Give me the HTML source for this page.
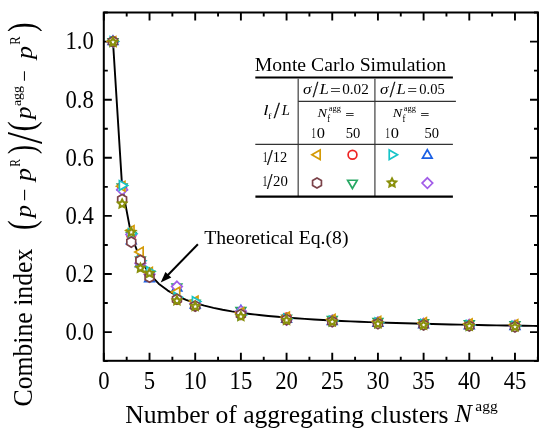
<!DOCTYPE html>
<html><head><meta charset="utf-8"><title>Combine index vs N_agg</title>
<style>html,body{margin:0;padding:0;background:#fff;width:550px;height:436px;overflow:hidden}svg{display:block}</style>
</head><body>
<svg width="550" height="436" viewBox="0 0 550 436" font-family="'Liberation Serif', 'Times New Roman', serif">
<rect width="550" height="436" fill="#fff"/>
<path d="M103.85,360.8v-8M103.85,12.5v8M126.69,360.8v-4M126.69,12.5v4M149.53,360.8v-8M149.53,12.5v8M172.37,360.8v-4M172.37,12.5v4M195.21,360.8v-8M195.21,12.5v8M218.05,360.8v-4M218.05,12.5v4M240.89,360.8v-8M240.89,12.5v8M263.73,360.8v-4M263.73,12.5v4M286.57,360.8v-8M286.57,12.5v8M309.41,360.8v-4M309.41,12.5v4M332.25,360.8v-8M332.25,12.5v8M355.09,360.8v-4M355.09,12.5v4M377.93,360.8v-8M377.93,12.5v8M400.77,360.8v-4M400.77,12.5v4M423.61,360.8v-8M423.61,12.5v8M446.45,360.8v-4M446.45,12.5v4M469.29,360.8v-8M469.29,12.5v8M492.13,360.8v-4M492.13,12.5v4M514.97,360.8v-8M514.97,12.5v8M537.81,360.8v-4M537.81,12.5v4M103.8,361.15h4M538.0,361.15h-4M103.8,332.10h8M538.0,332.10h-8M103.8,303.05h4M538.0,303.05h-4M103.8,274.00h8M538.0,274.00h-8M103.8,244.95h4M538.0,244.95h-4M103.8,215.90h8M538.0,215.90h-8M103.8,186.85h4M538.0,186.85h-4M103.8,157.80h8M538.0,157.80h-8M103.8,128.75h4M538.0,128.75h-4M103.8,99.70h8M538.0,99.70h-8M103.8,70.65h4M538.0,70.65h-4M103.8,41.60h8M538.0,41.60h-8M103.8,12.55h4M538.0,12.55h-4" fill="none" stroke="#000" stroke-width="1.9"/>
<rect x="103.8" y="12.5" width="434.2" height="348.3" fill="none" stroke="#000" stroke-width="2"/>
<clipPath id="cp"><rect x="103.8" y="12.5" width="434.2" height="348.3"/></clipPath>
<polyline clip-path="url(#cp)" fill="none" stroke="#000" stroke-width="1.9" stroke-linejoin="round" points="112.99,41.60 122.12,186.85 131.26,235.27 140.39,259.48 149.53,274.00 158.67,283.68 167.80,290.60 176.94,295.79 186.07,299.82 195.21,303.05 204.35,305.69 213.48,307.89 222.62,309.75 231.75,311.35 240.89,312.73 250.03,313.94 259.16,315.01 268.30,315.96 277.43,316.81 286.57,317.58 295.71,318.27 304.84,318.90 313.98,319.47 323.11,320.00 332.25,320.48 341.39,320.93 350.52,321.34 359.66,321.73 368.79,322.08 377.93,322.42 387.07,322.73 396.20,323.02 405.34,323.30 414.47,323.56 423.61,323.80 432.75,324.03 441.88,324.25 451.02,324.46 460.15,324.65 469.29,324.84 478.43,325.01 487.56,325.18 496.70,325.34 505.83,325.50 514.97,325.64 524.11,325.78 533.24,325.92 542.38,326.05"/>
<path d="M112.99,36.07 L117.79,44.37 L108.19,44.37 Z" fill="#fff" stroke="#1A5FE4" stroke-width="1.7" stroke-linejoin="miter"/>
<path d="M122.12,181.32 L126.92,189.62 L117.32,189.62 Z" fill="#fff" stroke="#1A5FE4" stroke-width="1.7" stroke-linejoin="miter"/>
<path d="M131.26,235.35 L136.06,243.65 L126.46,243.65 Z" fill="#fff" stroke="#1A5FE4" stroke-width="1.7" stroke-linejoin="miter"/>
<path d="M140.39,258.44 L145.19,266.74 L135.59,266.74 Z" fill="#fff" stroke="#1A5FE4" stroke-width="1.7" stroke-linejoin="miter"/>
<path d="M149.53,273.41 L154.33,281.71 L144.73,281.71 Z" fill="#fff" stroke="#1A5FE4" stroke-width="1.7" stroke-linejoin="miter"/>
<path d="M176.94,282.50 L181.74,290.80 L172.14,290.80 Z" fill="#fff" stroke="#1A5FE4" stroke-width="1.7" stroke-linejoin="miter"/>
<path d="M195.21,299.70 L200.01,308.00 L190.41,308.00 Z" fill="#fff" stroke="#1A5FE4" stroke-width="1.7" stroke-linejoin="miter"/>
<path d="M240.89,305.33 L245.69,313.63 L236.09,313.63 Z" fill="#fff" stroke="#1A5FE4" stroke-width="1.7" stroke-linejoin="miter"/>
<path d="M286.57,313.93 L291.37,322.23 L281.77,322.23 Z" fill="#fff" stroke="#1A5FE4" stroke-width="1.7" stroke-linejoin="miter"/>
<path d="M332.25,315.99 L337.05,324.29 L327.45,324.29 Z" fill="#fff" stroke="#1A5FE4" stroke-width="1.7" stroke-linejoin="miter"/>
<path d="M377.93,317.93 L382.73,326.23 L373.13,326.23 Z" fill="#fff" stroke="#1A5FE4" stroke-width="1.7" stroke-linejoin="miter"/>
<path d="M423.61,319.31 L428.41,327.61 L418.81,327.61 Z" fill="#fff" stroke="#1A5FE4" stroke-width="1.7" stroke-linejoin="miter"/>
<path d="M469.29,320.35 L474.09,328.65 L464.49,328.65 Z" fill="#fff" stroke="#1A5FE4" stroke-width="1.7" stroke-linejoin="miter"/>
<path d="M514.97,321.16 L519.77,329.46 L510.17,329.46 Z" fill="#fff" stroke="#1A5FE4" stroke-width="1.7" stroke-linejoin="miter"/>
<path d="M112.99,47.13 L117.79,38.83 L108.19,38.83 Z" fill="#fff" stroke="#28A864" stroke-width="1.7" stroke-linejoin="miter"/>
<path d="M122.12,192.38 L126.92,184.08 L117.32,184.08 Z" fill="#fff" stroke="#28A864" stroke-width="1.7" stroke-linejoin="miter"/>
<path d="M131.26,240.90 L136.06,232.60 L126.46,232.60 Z" fill="#fff" stroke="#28A864" stroke-width="1.7" stroke-linejoin="miter"/>
<path d="M140.39,265.44 L145.19,257.14 L135.59,257.14 Z" fill="#fff" stroke="#28A864" stroke-width="1.7" stroke-linejoin="miter"/>
<path d="M149.53,279.53 L154.33,271.23 L144.73,271.23 Z" fill="#fff" stroke="#28A864" stroke-width="1.7" stroke-linejoin="miter"/>
<path d="M176.94,292.32 L181.74,284.02 L172.14,284.02 Z" fill="#fff" stroke="#28A864" stroke-width="1.7" stroke-linejoin="miter"/>
<path d="M195.21,308.58 L200.01,300.28 L190.41,300.28 Z" fill="#fff" stroke="#28A864" stroke-width="1.7" stroke-linejoin="miter"/>
<path d="M240.89,315.99 L245.69,307.69 L236.09,307.69 Z" fill="#fff" stroke="#28A864" stroke-width="1.7" stroke-linejoin="miter"/>
<path d="M286.57,323.54 L291.37,315.24 L281.77,315.24 Z" fill="#fff" stroke="#28A864" stroke-width="1.7" stroke-linejoin="miter"/>
<path d="M332.25,324.91 L337.05,316.61 L327.45,316.61 Z" fill="#fff" stroke="#28A864" stroke-width="1.7" stroke-linejoin="miter"/>
<path d="M377.93,326.85 L382.73,318.55 L373.13,318.55 Z" fill="#fff" stroke="#28A864" stroke-width="1.7" stroke-linejoin="miter"/>
<path d="M423.61,328.23 L428.41,319.93 L418.81,319.93 Z" fill="#fff" stroke="#28A864" stroke-width="1.7" stroke-linejoin="miter"/>
<path d="M469.29,329.27 L474.09,320.97 L464.49,320.97 Z" fill="#fff" stroke="#28A864" stroke-width="1.7" stroke-linejoin="miter"/>
<path d="M514.97,330.07 L519.77,321.77 L510.17,321.77 Z" fill="#fff" stroke="#28A864" stroke-width="1.7" stroke-linejoin="miter"/>
<circle cx="112.99" cy="41.60" r="4.4" fill="#fff" stroke="#EE2424" stroke-width="1.7" stroke-linejoin="miter"/>
<circle cx="122.12" cy="186.85" r="4.4" fill="#fff" stroke="#EE2424" stroke-width="1.7" stroke-linejoin="miter"/>
<circle cx="131.26" cy="235.36" r="4.4" fill="#fff" stroke="#EE2424" stroke-width="1.7" stroke-linejoin="miter"/>
<circle cx="140.39" cy="259.48" r="4.4" fill="#fff" stroke="#EE2424" stroke-width="1.7" stroke-linejoin="miter"/>
<circle cx="149.53" cy="274.00" r="4.4" fill="#fff" stroke="#EE2424" stroke-width="1.7" stroke-linejoin="miter"/>
<circle cx="176.94" cy="299.56" r="4.4" fill="#fff" stroke="#EE2424" stroke-width="1.7" stroke-linejoin="miter"/>
<circle cx="195.21" cy="303.05" r="4.4" fill="#fff" stroke="#EE2424" stroke-width="1.7" stroke-linejoin="miter"/>
<circle cx="240.89" cy="312.72" r="4.4" fill="#fff" stroke="#EE2424" stroke-width="1.7" stroke-linejoin="miter"/>
<circle cx="286.57" cy="317.58" r="4.4" fill="#fff" stroke="#EE2424" stroke-width="1.7" stroke-linejoin="miter"/>
<circle cx="332.25" cy="320.48" r="4.4" fill="#fff" stroke="#EE2424" stroke-width="1.7" stroke-linejoin="miter"/>
<circle cx="377.93" cy="322.42" r="4.4" fill="#fff" stroke="#EE2424" stroke-width="1.7" stroke-linejoin="miter"/>
<circle cx="423.61" cy="323.80" r="4.4" fill="#fff" stroke="#EE2424" stroke-width="1.7" stroke-linejoin="miter"/>
<circle cx="469.29" cy="324.84" r="4.4" fill="#fff" stroke="#EE2424" stroke-width="1.7" stroke-linejoin="miter"/>
<circle cx="514.97" cy="325.64" r="4.4" fill="#fff" stroke="#EE2424" stroke-width="1.7" stroke-linejoin="miter"/>
<path d="M112.99,36.30 L118.29,41.60 L112.99,46.90 L107.69,41.60 Z" fill="#fff" stroke="#A25DE8" stroke-width="1.7" stroke-linejoin="miter"/>
<path d="M122.12,184.46 L127.42,189.76 L122.12,195.06 L116.82,189.76 Z" fill="#fff" stroke="#A25DE8" stroke-width="1.7" stroke-linejoin="miter"/>
<path d="M131.26,229.19 L136.56,234.49 L131.26,239.79 L125.96,234.49 Z" fill="#fff" stroke="#A25DE8" stroke-width="1.7" stroke-linejoin="miter"/>
<path d="M140.39,257.95 L145.69,263.25 L140.39,268.55 L135.09,263.25 Z" fill="#fff" stroke="#A25DE8" stroke-width="1.7" stroke-linejoin="miter"/>
<path d="M149.53,268.99 L154.83,274.29 L149.53,279.59 L144.23,274.29 Z" fill="#fff" stroke="#A25DE8" stroke-width="1.7" stroke-linejoin="miter"/>
<path d="M176.94,281.31 L182.24,286.61 L176.94,291.91 L171.64,286.61 Z" fill="#fff" stroke="#A25DE8" stroke-width="1.7" stroke-linejoin="miter"/>
<path d="M195.21,298.45 L200.51,303.75 L195.21,309.05 L189.91,303.75 Z" fill="#fff" stroke="#A25DE8" stroke-width="1.7" stroke-linejoin="miter"/>
<path d="M240.89,305.88 L246.19,311.18 L240.89,316.48 L235.59,311.18 Z" fill="#fff" stroke="#A25DE8" stroke-width="1.7" stroke-linejoin="miter"/>
<path d="M286.57,314.48 L291.87,319.78 L286.57,325.08 L281.27,319.78 Z" fill="#fff" stroke="#A25DE8" stroke-width="1.7" stroke-linejoin="miter"/>
<path d="M332.25,315.18 L337.55,320.48 L332.25,325.78 L326.95,320.48 Z" fill="#fff" stroke="#A25DE8" stroke-width="1.7" stroke-linejoin="miter"/>
<path d="M377.93,317.12 L383.23,322.42 L377.93,327.72 L372.63,322.42 Z" fill="#fff" stroke="#A25DE8" stroke-width="1.7" stroke-linejoin="miter"/>
<path d="M423.61,318.50 L428.91,323.80 L423.61,329.10 L418.31,323.80 Z" fill="#fff" stroke="#A25DE8" stroke-width="1.7" stroke-linejoin="miter"/>
<path d="M469.29,319.54 L474.59,324.84 L469.29,330.14 L463.99,324.84 Z" fill="#fff" stroke="#A25DE8" stroke-width="1.7" stroke-linejoin="miter"/>
<path d="M514.97,320.34 L520.27,325.64 L514.97,330.94 L509.67,325.64 Z" fill="#fff" stroke="#A25DE8" stroke-width="1.7" stroke-linejoin="miter"/>
<path d="M107.45,41.60 L115.75,36.80 L115.75,46.40 Z" fill="#fff" stroke="#D49A06" stroke-width="1.7" stroke-linejoin="miter"/>
<path d="M116.59,186.27 L124.89,181.47 L124.89,191.07 Z" fill="#fff" stroke="#D49A06" stroke-width="1.7" stroke-linejoin="miter"/>
<path d="M125.72,230.43 L134.02,225.62 L134.02,235.23 Z" fill="#fff" stroke="#D49A06" stroke-width="1.7" stroke-linejoin="miter"/>
<path d="M134.86,251.92 L143.16,247.12 L143.16,256.72 Z" fill="#fff" stroke="#D49A06" stroke-width="1.7" stroke-linejoin="miter"/>
<path d="M144.00,272.26 L152.30,267.46 L152.30,277.06 Z" fill="#fff" stroke="#D49A06" stroke-width="1.7" stroke-linejoin="miter"/>
<path d="M171.40,292.04 L179.70,287.24 L179.70,296.84 Z" fill="#fff" stroke="#D49A06" stroke-width="1.7" stroke-linejoin="miter"/>
<path d="M189.68,301.02 L197.98,296.22 L197.98,305.82 Z" fill="#fff" stroke="#D49A06" stroke-width="1.7" stroke-linejoin="miter"/>
<path d="M235.36,312.64 L243.66,307.84 L243.66,317.44 Z" fill="#fff" stroke="#D49A06" stroke-width="1.7" stroke-linejoin="miter"/>
<path d="M281.04,316.99 L289.34,312.19 L289.34,321.79 Z" fill="#fff" stroke="#D49A06" stroke-width="1.7" stroke-linejoin="miter"/>
<path d="M326.72,319.32 L335.02,314.52 L335.02,324.12 Z" fill="#fff" stroke="#D49A06" stroke-width="1.7" stroke-linejoin="miter"/>
<path d="M372.40,321.25 L380.70,316.45 L380.70,326.05 Z" fill="#fff" stroke="#D49A06" stroke-width="1.7" stroke-linejoin="miter"/>
<path d="M418.08,322.64 L426.38,317.84 L426.38,327.44 Z" fill="#fff" stroke="#D49A06" stroke-width="1.7" stroke-linejoin="miter"/>
<path d="M463.76,323.68 L472.06,318.88 L472.06,328.48 Z" fill="#fff" stroke="#D49A06" stroke-width="1.7" stroke-linejoin="miter"/>
<path d="M509.44,324.48 L517.74,319.68 L517.74,329.28 Z" fill="#fff" stroke="#D49A06" stroke-width="1.7" stroke-linejoin="miter"/>
<path d="M118.52,41.60 L110.22,36.80 L110.22,46.40 Z" fill="#fff" stroke="#16C4C8" stroke-width="1.7" stroke-linejoin="miter"/>
<path d="M127.66,185.40 L119.36,180.60 L119.36,190.20 Z" fill="#fff" stroke="#16C4C8" stroke-width="1.7" stroke-linejoin="miter"/>
<path d="M136.79,233.62 L128.49,228.82 L128.49,238.42 Z" fill="#fff" stroke="#16C4C8" stroke-width="1.7" stroke-linejoin="miter"/>
<path d="M145.93,260.78 L137.63,255.98 L137.63,265.58 Z" fill="#fff" stroke="#16C4C8" stroke-width="1.7" stroke-linejoin="miter"/>
<path d="M155.06,271.50 L146.76,266.70 L146.76,276.30 Z" fill="#fff" stroke="#16C4C8" stroke-width="1.7" stroke-linejoin="miter"/>
<path d="M182.47,297.15 L174.17,292.35 L174.17,301.95 Z" fill="#fff" stroke="#16C4C8" stroke-width="1.7" stroke-linejoin="miter"/>
<path d="M200.74,301.60 L192.44,296.80 L192.44,306.40 Z" fill="#fff" stroke="#16C4C8" stroke-width="1.7" stroke-linejoin="miter"/>
<path d="M246.42,314.96 L238.12,310.16 L238.12,319.76 Z" fill="#fff" stroke="#16C4C8" stroke-width="1.7" stroke-linejoin="miter"/>
<path d="M292.10,318.68 L283.80,313.88 L283.80,323.48 Z" fill="#fff" stroke="#16C4C8" stroke-width="1.7" stroke-linejoin="miter"/>
<path d="M337.78,320.92 L329.48,316.12 L329.48,325.72 Z" fill="#fff" stroke="#16C4C8" stroke-width="1.7" stroke-linejoin="miter"/>
<path d="M383.46,322.85 L375.16,318.05 L375.16,327.65 Z" fill="#fff" stroke="#16C4C8" stroke-width="1.7" stroke-linejoin="miter"/>
<path d="M429.14,324.24 L420.84,319.44 L420.84,329.04 Z" fill="#fff" stroke="#16C4C8" stroke-width="1.7" stroke-linejoin="miter"/>
<path d="M474.82,325.27 L466.52,320.47 L466.52,330.07 Z" fill="#fff" stroke="#16C4C8" stroke-width="1.7" stroke-linejoin="miter"/>
<path d="M520.50,326.08 L512.20,321.28 L512.20,330.88 Z" fill="#fff" stroke="#16C4C8" stroke-width="1.7" stroke-linejoin="miter"/>
<polygon points="112.99,36.50 117.40,39.05 117.40,44.15 112.99,46.70 108.57,44.15 108.57,39.05" fill="#fff" stroke="#7B4249" stroke-width="1.7" stroke-linejoin="miter"/>
<polygon points="122.12,194.53 126.54,197.08 126.54,202.18 122.12,204.73 117.71,202.18 117.71,197.08" fill="#fff" stroke="#7B4249" stroke-width="1.7" stroke-linejoin="miter"/>
<polygon points="131.26,236.95 135.67,239.50 135.67,244.60 131.26,247.15 126.84,244.60 126.84,239.50" fill="#fff" stroke="#7B4249" stroke-width="1.7" stroke-linejoin="miter"/>
<polygon points="140.39,255.36 144.81,257.91 144.81,263.01 140.39,265.56 135.98,263.01 135.98,257.91" fill="#fff" stroke="#7B4249" stroke-width="1.7" stroke-linejoin="miter"/>
<polygon points="149.53,272.10 153.95,274.65 153.95,279.75 149.53,282.30 145.11,279.75 145.11,274.65" fill="#fff" stroke="#7B4249" stroke-width="1.7" stroke-linejoin="miter"/>
<polygon points="176.94,294.17 181.35,296.72 181.35,301.82 176.94,304.37 172.52,301.82 172.52,296.72" fill="#fff" stroke="#7B4249" stroke-width="1.7" stroke-linejoin="miter"/>
<polygon points="195.21,301.06 199.63,303.61 199.63,308.71 195.21,311.26 190.79,308.71 190.79,303.61" fill="#fff" stroke="#7B4249" stroke-width="1.7" stroke-linejoin="miter"/>
<polygon points="240.89,309.37 245.31,311.92 245.31,317.02 240.89,319.57 236.47,317.02 236.47,311.92" fill="#fff" stroke="#7B4249" stroke-width="1.7" stroke-linejoin="miter"/>
<polygon points="286.57,314.51 290.99,317.06 290.99,322.16 286.57,324.71 282.15,322.16 282.15,317.06" fill="#fff" stroke="#7B4249" stroke-width="1.7" stroke-linejoin="miter"/>
<polygon points="332.25,316.54 336.67,319.09 336.67,324.19 332.25,326.74 327.83,324.19 327.83,319.09" fill="#fff" stroke="#7B4249" stroke-width="1.7" stroke-linejoin="miter"/>
<polygon points="377.93,318.48 382.35,321.03 382.35,326.13 377.93,328.68 373.51,326.13 373.51,321.03" fill="#fff" stroke="#7B4249" stroke-width="1.7" stroke-linejoin="miter"/>
<polygon points="423.61,319.86 428.03,322.41 428.03,327.51 423.61,330.06 419.19,327.51 419.19,322.41" fill="#fff" stroke="#7B4249" stroke-width="1.7" stroke-linejoin="miter"/>
<polygon points="469.29,320.90 473.71,323.45 473.71,328.55 469.29,331.10 464.87,328.55 464.87,323.45" fill="#fff" stroke="#7B4249" stroke-width="1.7" stroke-linejoin="miter"/>
<polygon points="514.97,321.71 519.39,324.26 519.39,329.36 514.97,331.91 510.55,329.36 510.55,324.26" fill="#fff" stroke="#7B4249" stroke-width="1.7" stroke-linejoin="miter"/>
<polygon points="112.99,37.75 114.25,40.31 117.08,40.72 115.03,42.71 115.51,45.53 112.99,44.20 110.46,45.53 110.94,42.71 108.90,40.72 111.72,40.31" fill="#fff" stroke="#8A900C" stroke-width="2.1" stroke-linejoin="miter" stroke-miterlimit="10"/>
<polygon points="122.12,199.56 123.39,202.12 126.21,202.53 124.17,204.52 124.65,207.34 122.12,206.01 119.59,207.34 120.08,204.52 118.03,202.53 120.86,202.12" fill="#fff" stroke="#8A900C" stroke-width="2.1" stroke-linejoin="miter" stroke-miterlimit="10"/>
<polygon points="131.26,227.88 132.52,230.44 135.35,230.85 133.30,232.85 133.79,235.66 131.26,234.33 128.73,235.66 129.21,232.85 127.17,230.85 129.99,230.44" fill="#fff" stroke="#8A900C" stroke-width="2.1" stroke-linejoin="miter" stroke-miterlimit="10"/>
<polygon points="140.39,263.76 141.66,266.32 144.48,266.73 142.44,268.72 142.92,271.54 140.39,270.21 137.87,271.54 138.35,268.72 136.30,266.73 139.13,266.32" fill="#fff" stroke="#8A900C" stroke-width="2.1" stroke-linejoin="miter" stroke-miterlimit="10"/>
<polygon points="149.53,268.99 150.79,271.55 153.62,271.96 151.57,273.95 152.06,276.77 149.53,275.44 147.00,276.77 147.49,273.95 145.44,271.96 148.27,271.55" fill="#fff" stroke="#8A900C" stroke-width="2.1" stroke-linejoin="miter" stroke-miterlimit="10"/>
<polygon points="176.94,296.38 178.20,298.94 181.03,299.35 178.98,301.35 179.47,304.16 176.94,302.83 174.41,304.16 174.89,301.35 172.85,299.35 175.67,298.94" fill="#fff" stroke="#8A900C" stroke-width="2.1" stroke-linejoin="miter" stroke-miterlimit="10"/>
<polygon points="195.21,302.11 196.47,304.67 199.30,305.08 197.25,307.07 197.74,309.88 195.21,308.56 192.68,309.88 193.17,307.07 191.12,305.08 193.95,304.67" fill="#fff" stroke="#8A900C" stroke-width="2.1" stroke-linejoin="miter" stroke-miterlimit="10"/>
<polygon points="240.89,312.13 242.15,314.69 244.98,315.10 242.93,317.09 243.42,319.91 240.89,318.58 238.36,319.91 238.85,317.09 236.80,315.10 239.63,314.69" fill="#fff" stroke="#8A900C" stroke-width="2.1" stroke-linejoin="miter" stroke-miterlimit="10"/>
<polygon points="286.57,315.93 287.83,318.49 290.66,318.90 288.61,320.90 289.10,323.71 286.57,322.38 284.04,323.71 284.53,320.90 282.48,318.90 285.31,318.49" fill="#fff" stroke="#8A900C" stroke-width="2.1" stroke-linejoin="miter" stroke-miterlimit="10"/>
<polygon points="332.25,317.44 333.51,320.00 336.34,320.41 334.29,322.41 334.78,325.22 332.25,323.89 329.72,325.22 330.21,322.41 328.16,320.41 330.99,320.00" fill="#fff" stroke="#8A900C" stroke-width="2.1" stroke-linejoin="miter" stroke-miterlimit="10"/>
<polygon points="377.93,319.38 379.19,321.94 382.02,322.35 379.97,324.34 380.46,327.16 377.93,325.83 375.40,327.16 375.89,324.34 373.84,322.35 376.67,321.94" fill="#fff" stroke="#8A900C" stroke-width="2.1" stroke-linejoin="miter" stroke-miterlimit="10"/>
<polygon points="423.61,320.76 424.87,323.32 427.70,323.73 425.65,325.73 426.14,328.54 423.61,327.21 421.08,328.54 421.57,325.73 419.52,323.73 422.35,323.32" fill="#fff" stroke="#8A900C" stroke-width="2.1" stroke-linejoin="miter" stroke-miterlimit="10"/>
<polygon points="469.29,321.80 470.55,324.36 473.38,324.77 471.33,326.77 471.82,329.58 469.29,328.25 466.76,329.58 467.25,326.77 465.20,324.77 468.03,324.36" fill="#fff" stroke="#8A900C" stroke-width="2.1" stroke-linejoin="miter" stroke-miterlimit="10"/>
<polygon points="514.97,322.61 516.23,325.17 519.06,325.58 517.01,327.57 517.50,330.39 514.97,329.06 512.44,330.39 512.93,327.57 510.88,325.58 513.71,325.17" fill="#fff" stroke="#8A900C" stroke-width="2.1" stroke-linejoin="miter" stroke-miterlimit="10"/>
<text transform="translate(93.8,339.90) scale(0.88,1)" font-size="25.8" text-anchor="end">0.0</text>
<text transform="translate(93.8,281.80) scale(0.88,1)" font-size="25.8" text-anchor="end">0.2</text>
<text transform="translate(93.8,223.70) scale(0.88,1)" font-size="25.8" text-anchor="end">0.4</text>
<text transform="translate(93.8,165.60) scale(0.88,1)" font-size="25.8" text-anchor="end">0.6</text>
<text transform="translate(93.8,107.50) scale(0.88,1)" font-size="25.8" text-anchor="end">0.8</text>
<text transform="translate(93.8,49.40) scale(0.88,1)" font-size="25.8" text-anchor="end">1.0</text>
<text transform="translate(103.85,388.6) scale(0.88,1)" font-size="25.8" text-anchor="middle">0</text>
<text transform="translate(149.53,388.6) scale(0.88,1)" font-size="25.8" text-anchor="middle">5</text>
<text transform="translate(195.21,388.6) scale(0.88,1)" font-size="25.8" text-anchor="middle">10</text>
<text transform="translate(240.89,388.6) scale(0.88,1)" font-size="25.8" text-anchor="middle">15</text>
<text transform="translate(286.57,388.6) scale(0.88,1)" font-size="25.8" text-anchor="middle">20</text>
<text transform="translate(332.25,388.6) scale(0.88,1)" font-size="25.8" text-anchor="middle">25</text>
<text transform="translate(377.93,388.6) scale(0.88,1)" font-size="25.8" text-anchor="middle">30</text>
<text transform="translate(423.61,388.6) scale(0.88,1)" font-size="25.8" text-anchor="middle">35</text>
<text transform="translate(469.29,388.6) scale(0.88,1)" font-size="25.8" text-anchor="middle">40</text>
<text transform="translate(514.97,388.6) scale(0.88,1)" font-size="25.8" text-anchor="middle">45</text>
<text x="125.2" y="422.6" font-size="25.6">Number of aggregating clusters</text>
<text x="454.8" y="422.4" font-size="25.6" font-style="italic">N</text>
<text x="475.3" y="411.2" font-size="15.5">agg</text>
<g transform="translate(31.8,405.6) rotate(-90)">
<text transform="scale(1,1.07)" x="-0.9" y="0" font-size="25.7">Combine index</text>
<text transform="translate(175.53,2.19) scale(0.776,1)" font-size="37.67">(</text>
<text transform="translate(188.01,-0.42) scale(1.115,1)" font-size="22.50" font-style="italic">p</text>
<text x="204.28" y="0.18" font-size="22.34">−</text>
<text transform="translate(224.65,-0.42) scale(1.149,1)" font-size="22.50" font-style="italic">p</text>
<text transform="translate(238.85,-11.34) scale(0.839,1)" font-size="13.79">R</text>
<text transform="translate(251.50,2.19) scale(0.705,1)" font-size="37.67">)</text>
<text transform="translate(261.50,9.09) scale(0.854,1)" font-size="50.60">/</text>
<text transform="translate(274.07,2.19) scale(0.817,1)" font-size="37.67">(</text>
<text transform="translate(286.71,-0.72) scale(1.094,1)" font-size="22.94" font-style="italic">p</text>
<text transform="translate(299.48,-11.30) scale(1.076,1)" font-size="12.88">agg</text>
<text x="323.88" y="-0.46" font-size="20.43">−</text>
<text transform="translate(346.66,0.08) scale(1.157,1)" font-size="22.50" font-style="italic">p</text>
<text transform="translate(360.82,-11.34) scale(0.907,1)" font-size="13.79">R</text>
<text transform="translate(373.55,2.19) scale(0.756,1)" font-size="37.67">)</text>
</g>
<text x="204.2" y="243.5" font-size="19.7">Theoretical Eq.(8)</text>
<line x1="197.9" y1="244.2" x2="166" y2="277" stroke="#000" stroke-width="2"/>
<path d="M160.7,282.4 L165.4,271.9 L171.3,277.6 Z" fill="#000"/>
<text x="254.7" y="70.7" font-size="19.7">Monte Carlo Simulation</text>
<line x1="255.3" y1="77.5" x2="452.9" y2="77.5" stroke="#000" stroke-width="2.1"/>
<line x1="298.2" y1="78.5" x2="298.2" y2="196" stroke="#5a5a5a" stroke-width="1.4"/>
<line x1="374.9" y1="78.5" x2="374.9" y2="196" stroke="#5a5a5a" stroke-width="1.4"/>
<line x1="298.2" y1="101.4" x2="455.9" y2="101.4" stroke="#333" stroke-width="1.1"/>
<line x1="255.3" y1="144.4" x2="452.9" y2="144.4" stroke="#333" stroke-width="1.1"/>
<line x1="255.4" y1="196.6" x2="452.9" y2="196.6" stroke="#000" stroke-width="2.1"/>
<text transform="translate(303.09,94.36) scale(1.262,1.000)" font-size="13.58" font-style="italic">σ</text>
<text stroke="#000" stroke-width="0.3" transform="translate(312.70,97.04) scale(0.860,1.000)" font-size="22.84">/</text>
<text transform="translate(319.47,93.80) scale(1.157,1.000)" font-size="14.46" font-style="italic">L</text>
<text transform="translate(330.2,94.83) scale(1,0.78)" font-size="18.5" stroke="#000" stroke-width="0.25">=</text>
<text transform="translate(342.19,94.01) scale(1.053,1.000)" font-size="14.41">0.02</text>
<text transform="translate(380.09,94.36) scale(1.262,1.000)" font-size="13.58" font-style="italic">σ</text>
<text stroke="#000" stroke-width="0.3" transform="translate(389.70,97.04) scale(0.860,1.000)" font-size="22.84">/</text>
<text transform="translate(396.47,93.80) scale(1.157,1.000)" font-size="14.46" font-style="italic">L</text>
<text transform="translate(407.5,94.84) scale(1,0.87)" font-size="16.6" stroke="#000" stroke-width="0.25">=</text>
<text transform="translate(419.22,94.01) scale(1.010,1.000)" font-size="14.41">0.05</text>
<text transform="translate(263.15,114.50) scale(1.301,1.000)" font-size="14.64" font-style="italic">l</text>
<text transform="translate(267.99,118.70) scale(1.359,1.000)" font-size="7.61">f</text>
<text stroke="#000" stroke-width="0.3" transform="translate(273.70,118.43) scale(0.930,1.000)" font-size="23.43">/</text>
<text transform="translate(281.65,114.50) scale(0.990,1.000)" font-size="14.77" font-style="italic">L</text>
<text transform="translate(317.54,116.97) scale(1.051,1.000)" font-size="13.48" font-style="italic">N</text>
<text transform="translate(328.64,111.46) scale(0.970,1.000)" font-size="8.77">agg</text>
<text transform="translate(327.34,121.60) scale(0.932,1.000)" font-size="9.30">f</text>
<text stroke="#000" stroke-width="0.25" transform="translate(345.43,118.52) scale(1.000,0.783)" font-size="15.32">=</text>
<text transform="translate(392.64,116.97) scale(1.051,1.000)" font-size="13.48" font-style="italic">N</text>
<text transform="translate(403.75,111.46) scale(0.970,1.000)" font-size="8.77">agg</text>
<text transform="translate(402.44,121.60) scale(0.932,1.000)" font-size="9.30">f</text>
<text stroke="#000" stroke-width="0.25" transform="translate(420.53,118.52) scale(1.000,0.783)" font-size="15.32">=</text>
<text transform="translate(311.53,138.00) scale(0.615,1.000)" font-size="13.94">1</text>
<text transform="translate(316.84,138.11) scale(1.140,1.000)" font-size="14.41">0</text>
<text transform="translate(345.63,137.92) scale(1.042,1.000)" font-size="13.97">50</text>
<text transform="translate(385.43,138.00) scale(0.615,1.000)" font-size="13.94">1</text>
<text transform="translate(390.74,138.11) scale(1.140,1.000)" font-size="14.41">0</text>
<text transform="translate(424.53,137.92) scale(1.042,1.000)" font-size="13.97">50</text>
<text transform="translate(262.73,162.40) scale(0.661,1.000)" font-size="14.70">1</text>
<text stroke="#000" stroke-width="0.25" transform="translate(267.00,165.25) scale(0.919,1.000)" font-size="22.54">/</text>
<text transform="translate(272.70,162.25) scale(0.966,1.000)" font-size="14.93">12</text>
<text transform="translate(262.53,186.40) scale(0.648,1.000)" font-size="15.00">1</text>
<text stroke="#000" stroke-width="0.25" transform="translate(267.00,189.46) scale(0.889,1.000)" font-size="22.09">/</text>
<text transform="translate(273.11,186.29) scale(0.967,1.000)" font-size="15.29">20</text>
<path d="M311.87,154.70 L320.17,149.90 L320.17,159.50 Z" fill="#fff" stroke="#D49A06" stroke-width="1.7" stroke-linejoin="miter"/>
<circle cx="352.50" cy="154.80" r="4.4" fill="#fff" stroke="#EE2424" stroke-width="1.7" stroke-linejoin="miter"/>
<path d="M397.53,154.80 L389.23,150.00 L389.23,159.60 Z" fill="#fff" stroke="#16C4C8" stroke-width="1.7" stroke-linejoin="miter"/>
<path d="M427.30,149.77 L432.10,158.07 L422.50,158.07 Z" fill="#fff" stroke="#1A5FE4" stroke-width="1.7" stroke-linejoin="miter"/>
<polygon points="317.00,177.90 321.42,180.45 321.42,185.55 317.00,188.10 312.58,185.55 312.58,180.45" fill="#fff" stroke="#7B4249" stroke-width="1.7" stroke-linejoin="miter"/>
<path d="M352.40,188.53 L357.20,180.23 L347.60,180.23 Z" fill="#fff" stroke="#28A864" stroke-width="1.7" stroke-linejoin="miter"/>
<polygon points="392.00,178.55 393.26,181.11 396.09,181.52 394.04,183.51 394.53,186.33 392.00,185.00 389.47,186.33 389.96,183.51 387.91,181.52 390.74,181.11" fill="#fff" stroke="#8A900C" stroke-width="2.1" stroke-linejoin="miter" stroke-miterlimit="10"/>
<path d="M427.40,177.80 L432.70,183.10 L427.40,188.40 L422.10,183.10 Z" fill="#fff" stroke="#A25DE8" stroke-width="1.7" stroke-linejoin="miter"/>
</svg>
</body></html>
